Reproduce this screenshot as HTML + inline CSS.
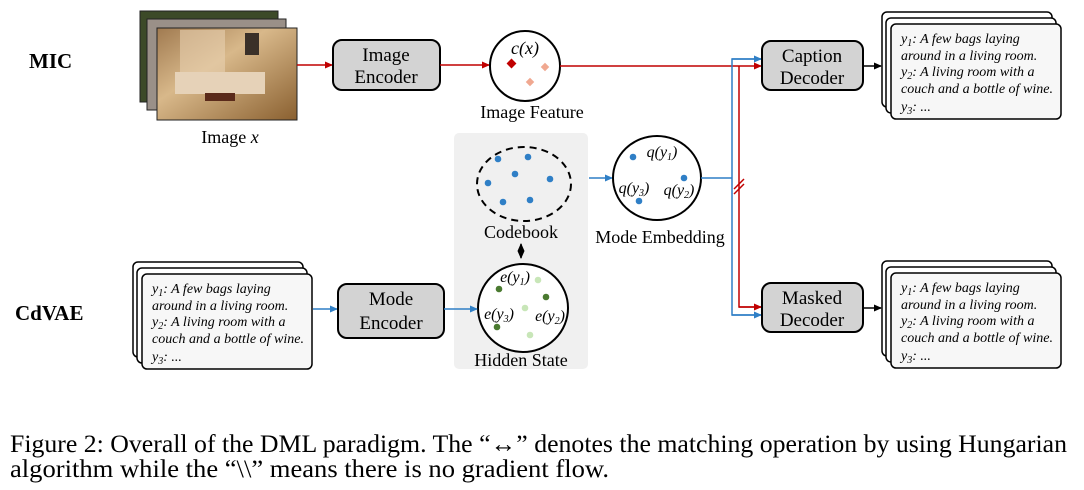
<!DOCTYPE html>
<html><head><meta charset="utf-8"><style>
html,body{margin:0;padding:0;background:#fff;}
svg{display:block;}
.t{font-family:"Liberation Serif",serif;}
</style></head><body>
<svg width="1084" height="490" viewBox="0 0 1084 490" xmlns="http://www.w3.org/2000/svg" class="t">
<defs>
<marker id="ar" markerWidth="8" markerHeight="8" refX="7" refY="4" orient="auto" markerUnits="userSpaceOnUse"><path d="M0,0.5 L8,4 L0,7.5z" fill="#c00000"/></marker>
<marker id="ab" markerWidth="8" markerHeight="8" refX="7" refY="4" orient="auto" markerUnits="userSpaceOnUse"><path d="M0,0.5 L8,4 L0,7.5z" fill="#2f7fc6"/></marker>
<marker id="ak" markerWidth="8" markerHeight="8" refX="7" refY="4" orient="auto" markerUnits="userSpaceOnUse"><path d="M0,0.5 L8,4 L0,7.5z" fill="#000"/></marker>
<marker id="ak2" markerWidth="8" markerHeight="8" refX="1" refY="4" orient="auto" markerUnits="userSpaceOnUse"><path d="M8,0.5 L0,4 L8,7.5z" fill="#000"/></marker>
<linearGradient id="room" x1="0" y1="0" x2="1" y2="1"><stop offset="0" stop-color="#a07a50"/><stop offset="0.4" stop-color="#d8b88a"/><stop offset="1" stop-color="#8a6030"/></linearGradient>
</defs>

<text x="29" y="68" font-size="21" font-weight="bold">MIC</text>
<text x="15" y="320" font-size="21" font-weight="bold">CdVAE</text>

<!-- images -->
<rect x="140" y="11" width="138" height="91" fill="#3c4a28" stroke="#222"/>
<rect x="147" y="19" width="139" height="91" fill="#9a9088" stroke="#222"/>
<rect x="157" y="28" width="140" height="92" fill="url(#room)" stroke="#222"/>
<rect x="180" y="30" width="45" height="45" fill="#e8d0b0" opacity="0.6"/>
<rect x="175" y="72" width="90" height="22" fill="#e6d2b8"/>
<rect x="205" y="93" width="30" height="8" fill="#5a2a1a"/>
<rect x="245" y="33" width="14" height="22" fill="#3a3028"/>
<text x="230" y="143" font-size="18" text-anchor="middle">Image <tspan font-style="italic">x</tspan></text>

<!-- image encoder -->
<line x1="297" y1="65" x2="332" y2="65" stroke="#c00000" stroke-width="1.5" marker-end="url(#ar)"/>
<rect x="333" y="40" width="107" height="50" rx="9" fill="#d3d3d3" stroke="#000" stroke-width="2"/>
<text x="386" y="61" font-size="19" text-anchor="middle">Image</text>
<text x="386" y="83" font-size="19" text-anchor="middle">Encoder</text>
<line x1="440" y1="65" x2="489" y2="65" stroke="#c00000" stroke-width="1.5" marker-end="url(#ar)"/>
<circle cx="525" cy="66" r="35" fill="#fff" stroke="#000" stroke-width="2"/>
<text x="525" y="54" font-size="18" text-anchor="middle" font-style="italic">c(x)</text>
<rect x="508" y="60" width="7" height="7" fill="#c00000" transform="rotate(45 511.5 63.5)"/>
<rect x="542" y="64" width="6" height="6" fill="#f0a890" transform="rotate(45 545 67)"/>
<rect x="527" y="79" width="6" height="6" fill="#f0a890" transform="rotate(45 530 82)"/>
<text x="532" y="118" font-size="18" text-anchor="middle">Image Feature</text>
<line x1="560" y1="66" x2="761" y2="66" stroke="#c00000" stroke-width="1.5" marker-end="url(#ar)"/>

<!-- gray panel -->
<rect x="454" y="133" width="134" height="236" rx="5" fill="#f0f0f0"/>
<ellipse cx="524" cy="184" rx="47" ry="37" fill="none" stroke="#000" stroke-width="2" stroke-dasharray="7,5"/>
<g fill="#2f7fc6">
<circle cx="498" cy="159" r="3.3"/><circle cx="528" cy="157" r="3.3"/><circle cx="515" cy="174" r="3.3"/>
<circle cx="488" cy="183" r="3.3"/><circle cx="550" cy="179" r="3.3"/><circle cx="503" cy="202" r="3.3"/><circle cx="530" cy="200" r="3.3"/>
</g>
<text x="521" y="238" font-size="18" text-anchor="middle">Codebook</text>
<line x1="521" y1="244" x2="521" y2="258" stroke="#000" stroke-width="1.5" marker-start="url(#ak2)" marker-end="url(#ak)"/>
<ellipse cx="523" cy="308" rx="45" ry="44" fill="#fff" stroke="#000" stroke-width="2"/>
<g fill="#4a7a30"><circle cx="499" cy="289" r="3.3"/><circle cx="546" cy="297" r="3.3"/><circle cx="497" cy="327" r="3.3"/></g>
<g fill="#c8e6b8"><circle cx="538" cy="280" r="3.3"/><circle cx="525" cy="308" r="3.3"/><circle cx="530" cy="335" r="3.3"/></g>
<text x="515" y="282" font-size="16" text-anchor="middle" font-style="italic">e(y<tspan font-size="10" dy="3">1</tspan><tspan dy="-3">)</tspan></text>
<text x="499" y="319" font-size="16" text-anchor="middle" font-style="italic">e(y<tspan font-size="10" dy="3">3</tspan><tspan dy="-3">)</tspan></text>
<text x="550" y="321" font-size="16" text-anchor="middle" font-style="italic">e(y<tspan font-size="10" dy="3">2</tspan><tspan dy="-3">)</tspan></text>
<text x="521" y="366" font-size="18" text-anchor="middle">Hidden State</text>

<!-- mode embedding -->
<line x1="589" y1="178" x2="612" y2="178" stroke="#2f7fc6" stroke-width="1.5" marker-end="url(#ab)"/>
<ellipse cx="657" cy="178" rx="44" ry="42" fill="#fff" stroke="#000" stroke-width="2"/>
<g fill="#2f7fc6"><circle cx="633" cy="157" r="3.3"/><circle cx="684" cy="178" r="3.3"/><circle cx="639" cy="201" r="3.3"/></g>
<text x="662" y="157" font-size="16" text-anchor="middle" font-style="italic">q(y<tspan font-size="10" dy="3">1</tspan><tspan dy="-3">)</tspan></text>
<text x="634" y="193" font-size="16" text-anchor="middle" font-style="italic">q(y<tspan font-size="10" dy="3">3</tspan><tspan dy="-3">)</tspan></text>
<text x="679" y="195" font-size="16" text-anchor="middle" font-style="italic">q(y<tspan font-size="10" dy="3">2</tspan><tspan dy="-3">)</tspan></text>
<text x="660" y="243" font-size="18" text-anchor="middle">Mode Embedding</text>

<!-- connectors right -->
<polyline points="701,178 732,178" fill="none" stroke="#2f7fc6" stroke-width="1.5"/>
<polyline points="761,59 732,59 732,315 761,315" fill="none" stroke="#2f7fc6" stroke-width="1.5"/>
<line x1="732" y1="59" x2="761" y2="59" stroke="#2f7fc6" stroke-width="1.5" marker-end="url(#ab)"/>
<line x1="732" y1="315" x2="761" y2="315" stroke="#2f7fc6" stroke-width="1.5" marker-end="url(#ab)"/>
<polyline points="739,66 739,307 761,307" fill="none" stroke="#c00000" stroke-width="1.5"/>
<line x1="739" y1="307" x2="761" y2="307" stroke="#c00000" stroke-width="1.5" marker-end="url(#ar)"/>
<line x1="734" y1="189" x2="744" y2="179" stroke="#c00000" stroke-width="1.5"/>
<line x1="734" y1="194" x2="744" y2="184" stroke="#c00000" stroke-width="1.5"/>

<!-- decoders -->
<rect x="762" y="41" width="101" height="49" rx="9" fill="#d3d3d3" stroke="#000" stroke-width="2"/>
<text x="812" y="62" font-size="19" text-anchor="middle">Caption</text>
<text x="812" y="84" font-size="19" text-anchor="middle">Decoder</text>
<rect x="762" y="283" width="101" height="49" rx="9" fill="#d3d3d3" stroke="#000" stroke-width="2"/>
<text x="812" y="304" font-size="19" text-anchor="middle">Masked</text>
<text x="812" y="326" font-size="19" text-anchor="middle">Decoder</text>
<line x1="863" y1="66" x2="881" y2="66" stroke="#000" stroke-width="1.5" marker-end="url(#ak)"/>
<line x1="863" y1="308" x2="881" y2="308" stroke="#000" stroke-width="1.5" marker-end="url(#ak)"/>

<!-- text stacks -->
<g id="stk" font-size="14" font-style="italic">
<rect x="882" y="12" width="170" height="95" rx="5" fill="#fff" stroke="#000" stroke-width="1.5"/>
<rect x="886" y="18" width="170" height="95" rx="5" fill="#fff" stroke="#000" stroke-width="1.5"/>
<rect x="891" y="24" width="170" height="95" rx="5" fill="#f7f7f7" stroke="#000" stroke-width="1.5"/>
<text x="901" y="43">y<tspan font-size="10" dy="3">1</tspan><tspan dy="-3">: A few bags laying</tspan></text>
<text x="901" y="60">around in a living room.</text>
<text x="901" y="76">y<tspan font-size="10" dy="3">2</tspan><tspan dy="-3">: A living room with a</tspan></text>
<text x="901" y="93" textLength="152" lengthAdjust="spacingAndGlyphs">couch and a bottle of wine.</text>
<text x="901" y="111">y<tspan font-size="10" dy="3">3</tspan><tspan dy="-3">: ...</tspan></text>
</g>
<use href="#stk" transform="translate(0,249)"/>
<use href="#stk" transform="translate(-749,250)"/>

<line x1="313" y1="309" x2="337" y2="309" stroke="#2f7fc6" stroke-width="1.5" marker-end="url(#ab)"/>
<rect x="338" y="284" width="106" height="54" rx="9" fill="#d3d3d3" stroke="#000" stroke-width="2"/>
<text x="391" y="305" font-size="19" text-anchor="middle">Mode</text>
<text x="391" y="329" font-size="19" text-anchor="middle">Encoder</text>
<line x1="444" y1="309" x2="477" y2="309" stroke="#2f7fc6" stroke-width="1.5" marker-end="url(#ab)"/>

<text x="10" y="452" font-size="25" textLength="1057" lengthAdjust="spacingAndGlyphs">Figure 2: Overall of the DML paradigm. The “↔” denotes the matching operation by using Hungarian</text>
<text x="10" y="477" font-size="25" textLength="599" lengthAdjust="spacingAndGlyphs">algorithm while the “\\” means there is no gradient flow.</text>
</svg>
</body></html>
